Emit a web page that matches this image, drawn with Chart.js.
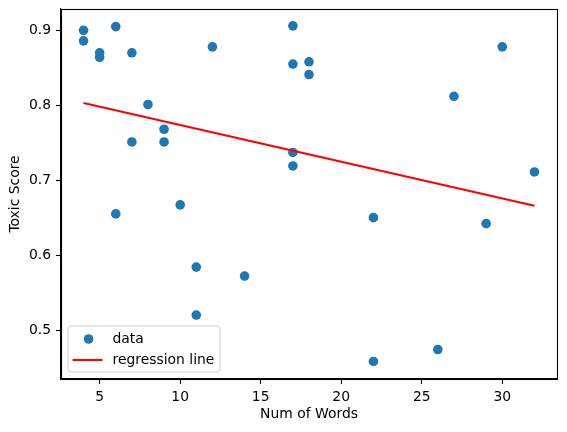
<!DOCTYPE html>
<html>
<head>
<meta charset="utf-8">
<script src="https://cdn.jsdelivr.net/npm/chart.js@4.4.1/dist/chart.umd.min.js"></script>
<style>
  html, body { margin: 0; padding: 0; background: #fff; }
  #wrap { width: 567px; height: 432px; }
</style>
</head>
<body>
<div id="wrap"><canvas id="toxChart" width="567" height="432"></canvas></div>
<script>
// values
var numWords   = [4, 4, 5, 5, 6, 7, 8, 7, 9, 9, 6, 10, 12, 11, 11, 14, 17, 17, 18, 18, 17, 17, 22, 22, 26, 27, 29, 30, 32];
var toxicScore = [0.900, 0.886, 0.870, 0.864, 0.905, 0.870, 0.801, 0.751, 0.768, 0.751, 0.655, 0.667, 0.878, 0.584, 0.520,
                  0.572, 0.906, 0.855, 0.858, 0.841, 0.737, 0.719, 0.650, 0.458, 0.474, 0.812, 0.642, 0.878, 0.711];
var lineX = [4, 32];
var lineY = [0.803, 0.666];
var xTicks = [5, 10, 15, 20, 25, 30];
var yTicks = [0.5, 0.6, 0.7, 0.8, 0.9];

var FONT = 'DejaVu Sans';
var FS = 13.9;
var BLUE = '#1f77b4';

Chart.defaults.font.family = FONT;
Chart.defaults.font.size = FS;
Chart.defaults.color = '#000';

function toPoints(xs, ys) {
    var out = [];
    for (var i = 0; i < xs.length; i++) out.push({ x: xs[i], y: ys[i] });
    return out;
}

// matplotlib style box around the whole axes
var framePlugin = {
    id: 'frame',
    afterDatasetsDraw: function (chart) {
        var a = chart.chartArea, ctx = chart.ctx;
        ctx.save();
        ctx.strokeStyle = '#000';
        ctx.lineWidth = 1.1;
        ctx.strokeRect(Math.round(a.left) + 0.5, Math.round(a.top) + 0.5,
            Math.round(a.right - a.left), Math.round(a.bottom - a.top));
        ctx.restore();
    }
};

// legend in the lower-left corner of the plot, like loc='best' picked
var cornerLegend = {
    id: 'cornerLegend',
    afterDraw: function (chart) {
        var a = chart.chartArea, ctx = chart.ctx;
        var ds = chart.data.datasets;
        ctx.save();
        ctx.font = FS + 'px ' + FONT;
        var tw = Math.max(ctx.measureText(ds[0].label).width, ctx.measureText(ds[1].label).width);
        var w = 5.6 + 27.8 + 11.1 + tw + 5.6;
        var h = 46;
        var x0 = a.left + 7, y0 = a.bottom - 7 - h;
        ctx.beginPath();
        ctx.roundRect(x0, y0, w, h, 3);
        ctx.fillStyle = 'rgba(255,255,255,0.8)';
        ctx.fill();
        ctx.strokeStyle = '#cccccc';
        ctx.lineWidth = 1;
        ctx.stroke();

        var r1 = y0 + 13, r2 = r1 + 21;
        var hx = x0 + 5.6, tx = hx + 27.8 + 11.1;
        // scatter handle
        ctx.beginPath();
        ctx.arc(hx + 15, r1, 4.8, 0, Math.PI * 2);
        ctx.fillStyle = ds[0].backgroundColor;
        ctx.fill();
        // line handle
        ctx.beginPath();
        ctx.moveTo(hx - 1, r2);
        ctx.lineTo(hx + 29, r2);
        ctx.strokeStyle = ds[1].borderColor;
        ctx.lineWidth = 2.1;
        ctx.stroke();

        ctx.fillStyle = '#000';
        ctx.textBaseline = 'middle';
        ctx.textAlign = 'left';
        ctx.fillText(ds[0].label, tx, r1);
        ctx.fillText(ds[1].label, tx, r2);
        ctx.restore();
    }
};

new Chart(document.getElementById('toxChart').getContext('2d'), {
    type: 'scatter',
    data: {
        datasets: [
            {
                label: 'data',
                data: toPoints(numWords, toxicScore),
                backgroundColor: BLUE,
                borderWidth: 0,
                pointRadius: 4.8,
                pointHoverRadius: 4.8,
                order: 1
            },
            {
                type: 'line',
                label: 'regression line',
                data: toPoints(lineX, lineY),
                borderColor: '#ff0000',
                borderWidth: 2.1,
                pointRadius: 0,
                fill: false,
                order: 0
            }
        ]
    },
    options: {
        responsive: false,
        animation: false,
        devicePixelRatio: 1,
        layout: { padding: { top: 9, right: 10, left: 0, bottom: 0 } },
        plugins: {
            legend: { display: false },
            tooltip: { enabled: false }
        },
        scales: {
            x: {
                type: 'linear',
                min: 2.6,
                max: 33.4,
                afterBuildTicks: function (s) {
                    s.ticks = xTicks.map(function (v) { return { value: v }; });
                },
                afterFit: function (s) {
                    s.height = 53;
                    s.paddingLeft = 0;
                    s.paddingRight = 0;
                },
                grid: { drawOnChartArea: false, drawTicks: true, tickLength: 5, tickColor: '#000', tickWidth: 1.1 },
                border: { display: true, color: '#000', width: 1.1 },
                ticks: { padding: 5, maxRotation: 0, color: '#000' },
                title: { display: true, text: 'Num of Words', padding: { bottom: 9, top: 0 }, color: '#000' }
            },
            y: {
                type: 'linear',
                min: 0.4346,
                max: 0.9285,
                afterBuildTicks: function (s) {
                    s.ticks = yTicks.map(function (v) { return { value: v }; });
                },
                afterFit: function (s) {
                    s.width = 61;
                    s.paddingTop = 0;
                    s.paddingBottom = 0;
                },
                grid: { drawOnChartArea: false, drawTicks: true, tickLength: 5, tickColor: '#000', tickWidth: 1.1 },
                border: { display: true, color: '#000', width: 1.1 },
                ticks: {
                    padding: 5,
                    color: '#000',
                    callback: function (v) { return v.toFixed(1); }
                },
                title: { display: true, text: 'Toxic Score', padding: { top: 7, bottom: 0 }, color: '#000' }
            }
        }
    },
    plugins: [framePlugin, cornerLegend]
});
</script>
</body>
</html>
